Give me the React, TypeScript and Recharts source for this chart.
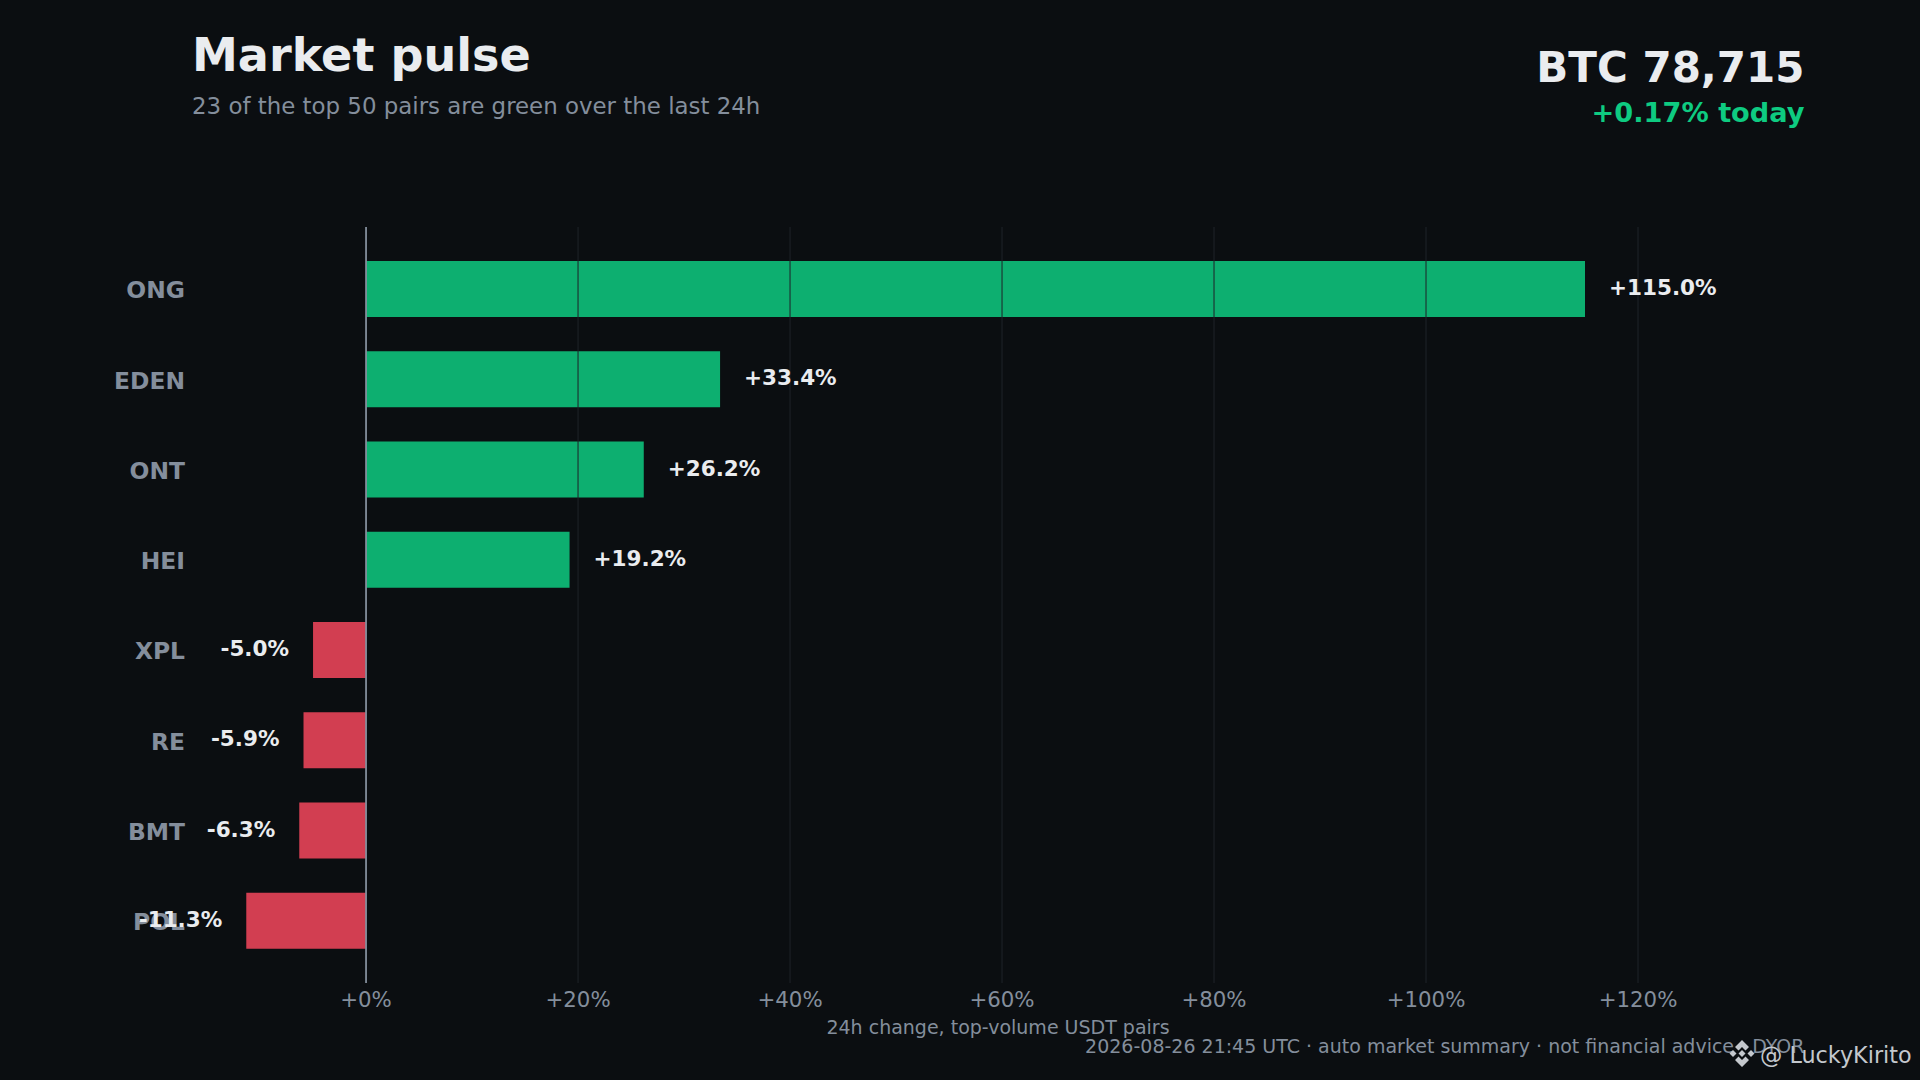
import { Bar, BarChart, Cell, LabelList, Label, ReferenceLine, XAxis, YAxis } from "recharts";

const symbols = ["ONG", "EDEN", "ONT", "HEI", "XPL", "RE", "BMT", "POL"];
const changes = [115.0, 33.4, 26.2, 19.2, -5.0, -5.9, -6.3, -11.3];
const xTicks = [0, 20, 40, 60, 80, 100, 120];

const rows = symbols.map((symbol, i) => ({ symbol, change: changes[i] }));

const BG = "#0B0E11";
const UP = "#0ECB81";
const DOWN = "#F6465D";
const MUTED = "#848E9C";
const BRIGHT = "#EAECEF";
const MARK = "#C4C8CD";
const FONT = "'DejaVu Sans', sans-serif";

const formatPct = (v: number) => `${v >= 0 ? "+" : ""}${v.toFixed(1)}%`;

const ValueLabel = (props: any) => {
    const { x, y, width, height, value } = props;
    const end = value >= 0 ? Math.max(x, x + width) : Math.min(x, x + width);
    return (
        <text
            x={value >= 0 ? end + 24 : end - 24}
            y={y + height / 2 + 6}
            textAnchor={value >= 0 ? "start" : "end"}
            fill={BRIGHT}
            fontSize={21.5}
            fontWeight="bold"
            fontFamily={FONT}
        >
            {formatPct(value)}
        </text>
    );
};

export default function App() {
    return (
        <div style={{ position: "absolute", left: 0, top: 0, width: 1920, height: 1080, background: BG, overflow: "hidden" }}>
            <BarChart width={1920} height={1080} data={rows} layout="vertical" margin={{ top: 227, right: 116, left: 0, bottom: 0 }}>
                <XAxis
                    type="number"
                    domain={[-16.42, 135.66]}
                    ticks={xTicks}
                    allowDataOverflow
                    height={97}
                    axisLine={false}
                    tickLine={false}
                    tickSize={0}
                    tickMargin={9}
                    tick={{ fill: MUTED, fontSize: 21.3, fontFamily: FONT }}
                    tickFormatter={(v: number) => `+${v}%`}
                >
                    <Label value="24h change, top-volume USDT pairs" position="insideBottom" offset={46} fill={MUTED} fontSize={19} fontFamily={FONT} />
                </XAxis>
                <YAxis
                    type="category"
                    dataKey="symbol"
                    width={192}
                    axisLine={false}
                    tickLine={false}
                    tickSize={0}
                    tickMargin={7}
                    padding={{ top: 17, bottom: 17 }}
                    tick={{ fill: MUTED, fontSize: 23.4, fontWeight: "bold", fontFamily: FONT, dy: 1 }}
                />
                <Bar dataKey="change" barSize={56} isAnimationActive={false} fillOpacity={0.85}>
                    {rows.map((r) => (
                        <Cell key={r.symbol} fill={r.change >= 0 ? UP : DOWN} />
                    ))}
                    <LabelList dataKey="change" content={ValueLabel} />
                </Bar>
                {xTicks.filter((t) => t !== 0).map((t) => (
                    <ReferenceLine key={t} x={t} stroke="#1E2329" strokeOpacity={0.85} strokeWidth={1.2} />
                ))}
                <ReferenceLine x={0} stroke={MUTED} strokeWidth={1.8} />
            </BarChart>
            <svg width={1920} height={1080} style={{ position: "absolute", left: 0, top: 0, pointerEvents: "none" }} fontFamily={FONT}>
                <text x={192} y={71} fill={BRIGHT} fontSize={46.1} fontWeight="bold">Market pulse</text>
                <text x={192} y={114} fill={MUTED} fontSize={22.9}>23 of the top 50 pairs are green over the last 24h</text>
                <text x={1804.5} y={82} textAnchor="end" fill={BRIGHT} fontSize={42} fontWeight="bold">BTC 78,715</text>
                <text x={1804.5} y={122} textAnchor="end" fill={UP} fontSize={27.2} fontWeight="bold">+0.17% today</text>
                <text x={1804.5} y={1053} textAnchor="end" fill={MUTED} fontSize={19}>2026-08-26 21:45 UTC · auto market summary · not financial advice · DYOR</text>
                <g fill={MARK}>
                    <path d="M1742 1040 l7 7 -3.5 3.5 -3.5 -3.5 -3.5 3.5 -3.5 -3.5 z" />
                    <path d="M1742 1067 l7 -7 -3.5 -3.5 -3.5 3.5 -3.5 -3.5 -3.5 3.5 z" />
                    <path d="M1742 1050 l3.5 3.5 -3.5 3.5 -3.5 -3.5 z" />
                    <path d="M1733 1050 l3.5 3.5 -3.5 3.5 -3.5 -3.5 z" />
                    <path d="M1751 1050 l3.5 3.5 -3.5 3.5 -3.5 -3.5 z" />
                </g>
                <text x={1760} y={1063} fill={MARK} fontSize={22.3}>@ LuckyKirito</text>
            </svg>
        </div>
    );
}
